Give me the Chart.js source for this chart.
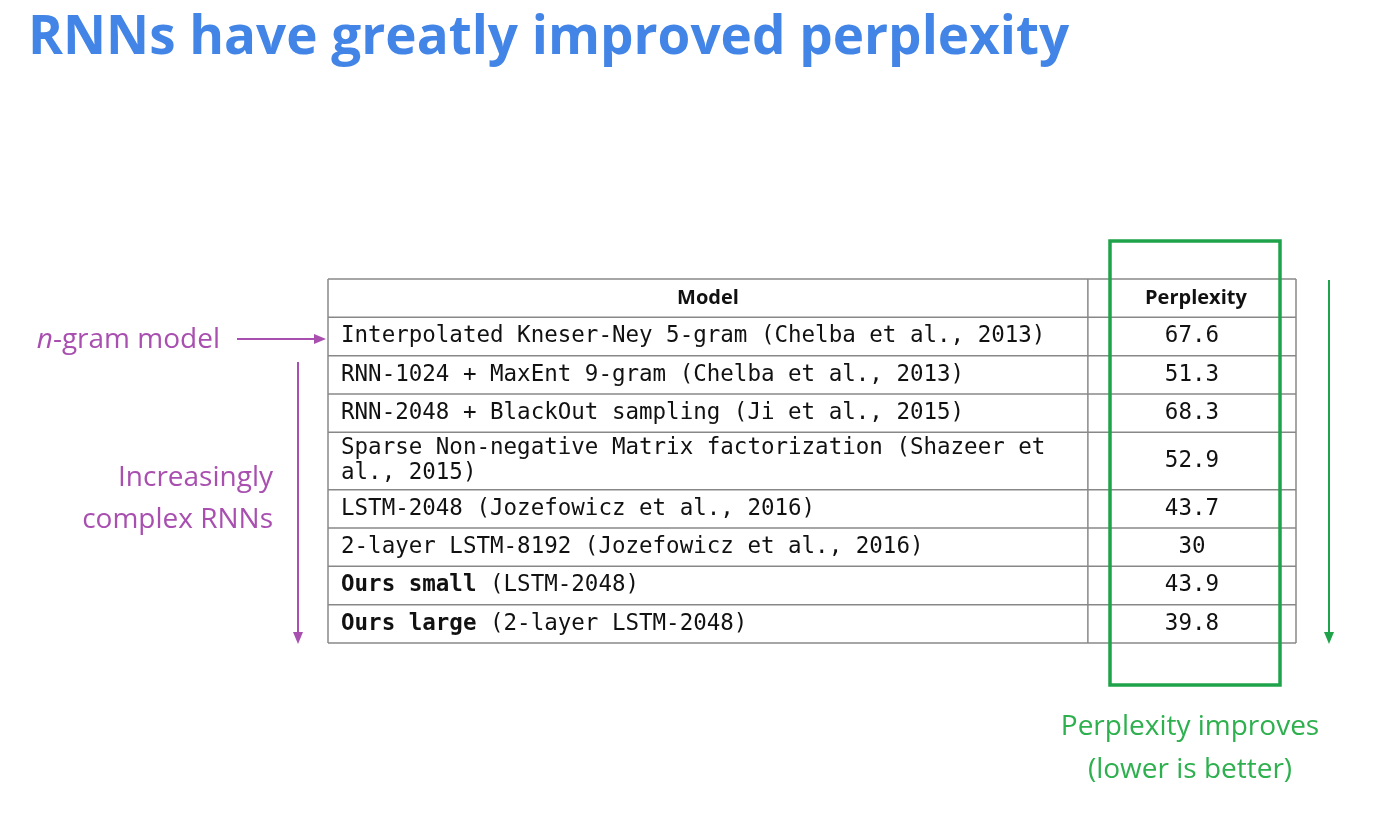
<!DOCTYPE html>
<html><head><meta charset="utf-8">
<script src="https://cdn.jsdelivr.net/npm/chart.js@4"></script>
<style>body{margin:0;background:#fff}</style>
</head><body>
<canvas id="c" width="1379" height="818"></canvas>
<script>
// table data
var headers = ["Model", "Perplexity"];
var boldPrefix = ["", "", "", "", "", "", "Ours small", "Ours large"];
var models = [
    ["Interpolated Kneser-Ney 5-gram (Chelba et al., 2013)"],
    ["RNN-1024 + MaxEnt 9-gram (Chelba et al., 2013)"],
    ["RNN-2048 + BlackOut sampling (Ji et al., 2015)"],
    ["Sparse Non-negative Matrix factorization (Shazeer et", "al., 2015)"],
    ["LSTM-2048 (Jozefowicz et al., 2016)"],
    ["2-layer LSTM-8192 (Jozefowicz et al., 2016)"],
    [" (LSTM-2048)"],
    [" (2-layer LSTM-2048)"]
];
var perplexity = ["67.6", "51.3", "68.3", "52.9", "43.7", "30", "43.9", "39.8"];
var rowSpan = [1, 1, 1, 1, 1.5, 1, 1, 1, 1]; // header + rows
var colSplit = 0.785;

var edges = [0];
rowSpan.forEach(function(s) { edges.push(edges[edges.length - 1] + s); });

var mono = "22.5px 'DejaVu Sans Mono'";
var monoBold = "bold 22.5px 'DejaVu Sans Mono'";

var tablePlugin = {
    id: 'table',
    afterDraw: function(chart) {
        var ctx = chart.ctx, x = chart.scales.x, y = chart.scales.y;
        var L = x.getPixelForValue(0), R = x.getPixelForValue(1), M = x.getPixelForValue(colSplit);
        ctx.save();
        // title
        ctx.fillStyle = "#4285e6";
        ctx.font = "bold 53px 'Open Sans'";
        ctx.textBaseline = "alphabetic";
        ctx.fillText("RNNs have greatly improved perplexity", 28, 54);

        // grid
        ctx.strokeStyle = "#888";
        ctx.lineWidth = 1.5;
        edges.forEach(function(e) {
            var py = y.getPixelForValue(e);
            ctx.beginPath(); ctx.moveTo(L, py); ctx.lineTo(R, py); ctx.stroke();
        });
        var T = y.getPixelForValue(0), B = y.getPixelForValue(edges[edges.length - 1]);
        [L, M, R].forEach(function(px) {
            ctx.beginPath(); ctx.moveTo(px, T); ctx.lineTo(px, B); ctx.stroke();
        });

        // header
        ctx.fillStyle = "#111";
        ctx.textBaseline = "middle";
        ctx.textAlign = "center";
        ctx.font = "bold 20px 'Open Sans'";
        var hy = y.getPixelForValue(edges[0] + rowSpan[0] / 2);
        ctx.fillText(headers[0], (L + M) / 2, hy);
        ctx.fillText(headers[1], (M + R) / 2 + 4, hy);

        // rows
        models.forEach(function(lines, i) {
            var cy = y.getPixelForValue(edges[i + 1] + rowSpan[i + 1] / 2);
            ctx.textAlign = "left";
            var n = lines.length;
            lines.forEach(function(t, j) {
                var ly = cy + (j - (n - 1) / 2) * 25;
                var px = L + 13;
                if (j === 0 && boldPrefix[i]) {
                    ctx.font = monoBold;
                    ctx.fillText(boldPrefix[i], px, ly);
                    px += ctx.measureText(boldPrefix[i]).width;
                }
                ctx.font = mono;
                ctx.fillText(t, px, ly);
            });
            ctx.textAlign = "center";
            ctx.font = mono;
            ctx.fillText(perplexity[i], (M + R) / 2, cy);
        });

        // green box and arrow
        ctx.strokeStyle = "#1fa34a";
        ctx.lineWidth = 3.5;
        ctx.strokeRect(1110, 241, 170, 444);
        ctx.lineWidth = 2;
        ctx.beginPath(); ctx.moveTo(1329, 280); ctx.lineTo(1329, 640); ctx.stroke();
        ctx.fillStyle = "#1fa34a";
        ctx.beginPath(); ctx.moveTo(1324, 632); ctx.lineTo(1334, 632); ctx.lineTo(1329, 644); ctx.fill();
        ctx.fillStyle = "#2eb04f";
        ctx.font = "28px 'Open Sans'";
        ctx.textAlign = "center";
        ctx.fillText("Perplexity improves", 1190, 727);
        ctx.fillText("(lower is better)", 1190, 770);

        // purple annotations
        var purple = "#a84fb0";
        ctx.strokeStyle = purple; ctx.fillStyle = purple;
        ctx.lineWidth = 2;
        ctx.beginPath(); ctx.moveTo(237, 339); ctx.lineTo(322, 339); ctx.stroke();
        ctx.beginPath(); ctx.moveTo(314, 334); ctx.lineTo(326, 339); ctx.lineTo(314, 344); ctx.fill();
        ctx.beginPath(); ctx.moveTo(298, 362); ctx.lineTo(298, 640); ctx.stroke();
        ctx.beginPath(); ctx.moveTo(293, 632); ctx.lineTo(303, 632); ctx.lineTo(298, 644); ctx.fill();
        ctx.textAlign = "right";
        ctx.font = "28px 'Open Sans'";
        var rest = "-gram model";
        var rw = ctx.measureText(rest).width;
        ctx.fillText(rest, 220, 340);
        ctx.font = "italic 28px 'Open Sans'";
        ctx.fillText("n", 220 - rw, 340);
        ctx.font = "28px 'Open Sans'";
        ctx.fillText("Increasingly", 273, 478);
        ctx.fillText("complex RNNs", 273, 520);
        ctx.restore();
    }
};

new Chart(document.getElementById('c'), {
    type: 'scatter',
    data: { datasets: [{ data: [] }] },
    options: {
        responsive: false,
        animation: false,
        layout: { padding: { left: 328, right: 83, top: 279, bottom: 175 } },
        plugins: { legend: { display: false }, tooltip: { enabled: false } },
        scales: {
            x: { display: false, min: 0, max: 1 },
            y: { display: false, min: 0, max: edges[edges.length - 1], reverse: true }
        }
    },
    plugins: [tablePlugin]
});
</script>
</body></html>
